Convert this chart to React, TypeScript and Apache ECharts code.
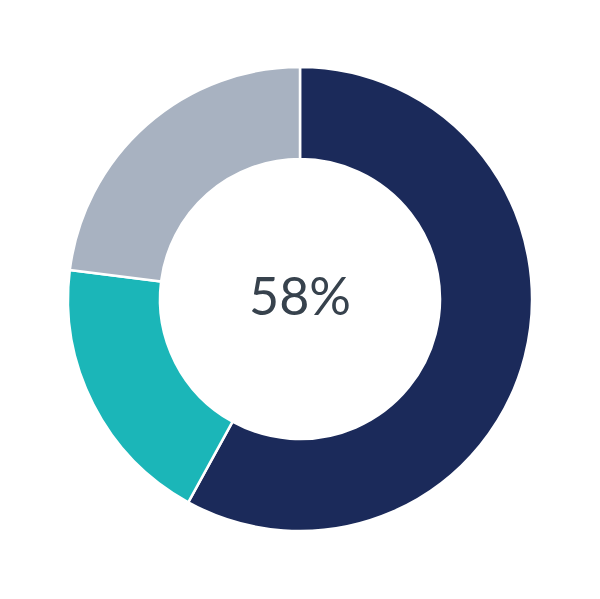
import React, { useEffect, useRef } from "react";
import * as echarts from "echarts";

const labels = ["A", "B", "C"];
const values = [58, 19, 23];
const colors = ["#1b2a5a", "#1bb6b8", "#a8b2c1"];
const centerText = "58%";

export default function App() {
  const ref = useRef<HTMLDivElement>(null);
  useEffect(() => {
    const chart = echarts.init(ref.current!, null, { renderer: "svg" });
    chart.setOption({
      animation: false,
      backgroundColor: "#ffffff",
      title: {
        text: centerText,
        left: "center",
        top: 264,
        textStyle: {
          fontFamily: "Lato",
          fontWeight: "normal",
          fontSize: 52,
          color: "#37424d",
        },
      },
      series: [
        {
          type: "pie",
          center: [300, 299],
          radius: [140, 232],
          startAngle: 90,
          clockwise: true,
          label: { show: false },
          labelLine: { show: false },
          emphasis: { disabled: true },
          itemStyle: { borderColor: "#ffffff", borderWidth: 2.5 },
          data: labels.map((n, i) => ({
            name: n,
            value: values[i],
            itemStyle: { color: colors[i] },
          })),
        },
      ],
    });
    return () => chart.dispose();
  }, []);
  return (
    <div
      ref={ref}
      style={{ position: "absolute", left: 0, top: 0, width: 600, height: 599 }}
    />
  );
}
